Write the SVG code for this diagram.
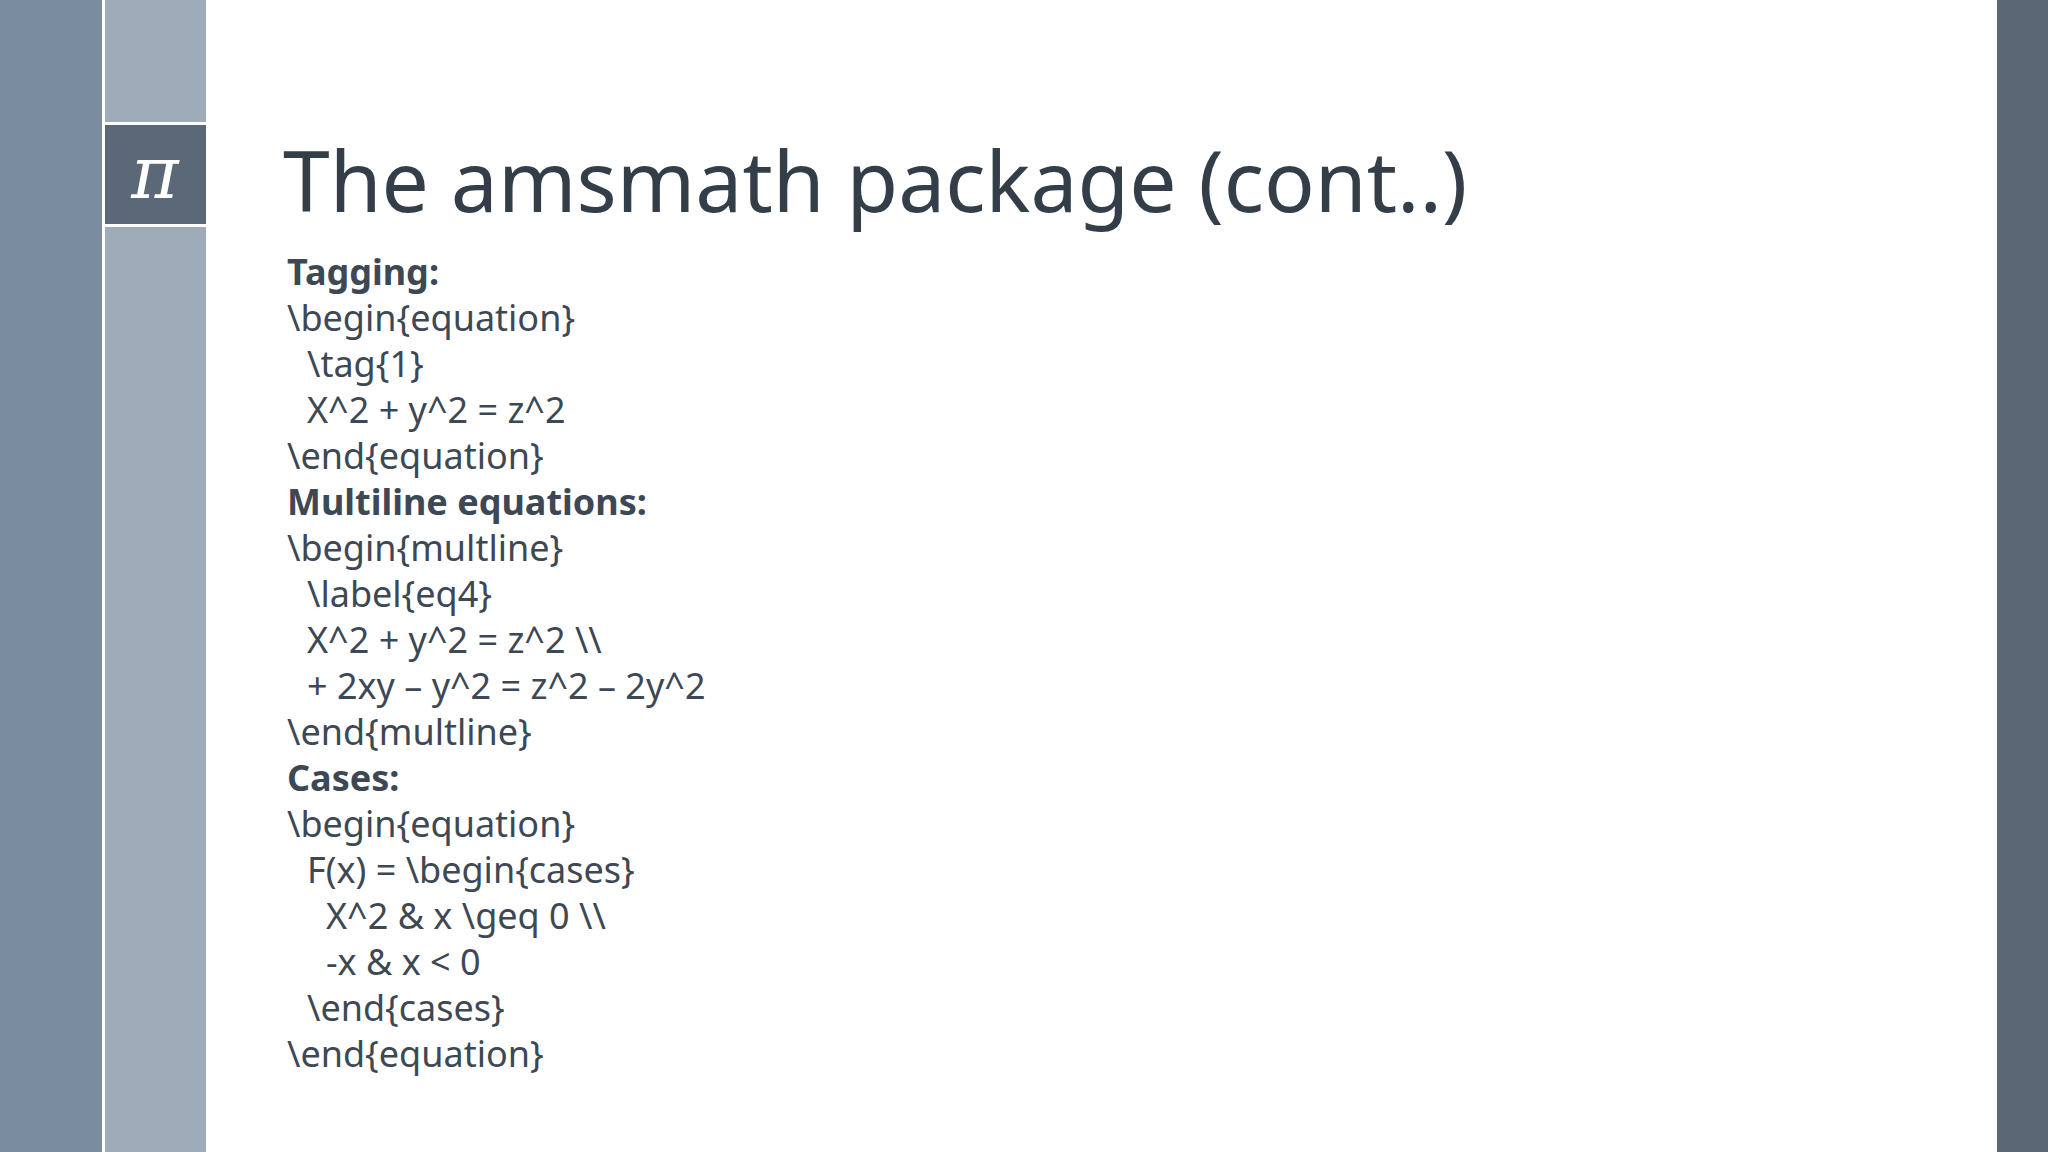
<svg xmlns="http://www.w3.org/2000/svg" width="2048" height="1152" viewBox="0 0 2048 1152">
<style>
.b{font-family:"Noto Sans","Open Sans",sans-serif;font-size:36px;fill:#3d4854}
.h{font-weight:bold}
</style>
<rect width="2048" height="1152" fill="#fff"/>
<g id="decor">
<rect x="0" y="0" width="102" height="1152" fill="#7a8d9e"/>
<rect x="105" y="0" width="101" height="1152" fill="#9eacba"/>
<rect x="105" y="125" width="101" height="99" fill="#5b6878"/>
<rect x="105" y="122" width="101" height="3" fill="#fff"/>
<rect x="105" y="224" width="101" height="3" fill="#fff"/>
<text x="155" y="198" text-anchor="middle" font-family="DejaVu Serif,serif" font-style="italic" font-size="72" fill="#fff">π</text>
<rect x="1997" y="0" width="51" height="1152" fill="#5b6775"/>
</g>
<g id="title"><text x="283" y="212" font-family="Noto Sans,sans-serif" font-size="84" fill="#333e48">The amsmath package (cont..)</text></g>
<g id="body" class="b">
<text class="b h" x="287" y="285">Tagging:</text>
<text class="b" x="287" y="331">\begin{equation}</text>
<text class="b" x="307" y="377">\tag{1}</text>
<text class="b" x="307" y="423">X^2 + y^2 = z^2</text>
<text class="b" x="287" y="469">\end{equation}</text>
<text class="b h" x="287" y="515">Multiline equations:</text>
<text class="b" x="287" y="561">\begin{multline}</text>
<text class="b" x="307" y="607">\label{eq4}</text>
<text class="b" x="307" y="653">X^2 + y^2 = z^2 \\</text>
<text class="b" x="307" y="699">+ 2xy – y^2 = z^2 – 2y^2</text>
<text class="b" x="287" y="745">\end{multline}</text>
<text class="b h" x="287" y="791">Cases:</text>
<text class="b" x="287" y="837">\begin{equation}</text>
<text class="b" x="307" y="883">F(x) = \begin{cases}</text>
<text class="b" x="326" y="929">X^2 &amp; x \geq 0 \\</text>
<text class="b" x="326" y="975">-x &amp; x &lt; 0</text>
<text class="b" x="307" y="1021">\end{cases}</text>
<text class="b" x="287" y="1067">\end{equation}</text>
</g>
</svg>
